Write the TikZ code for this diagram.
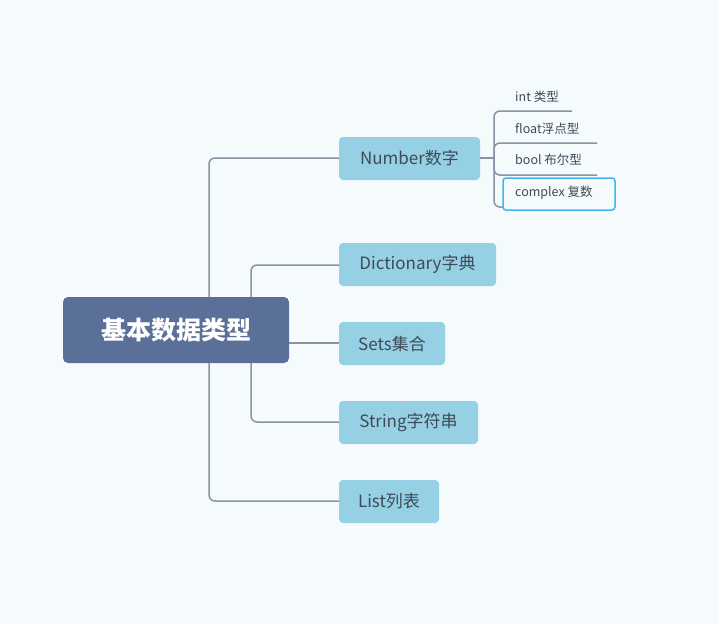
\documentclass[tikz,border=0pt]{standalone}
\usepackage{fontspec}
\setmainfont{Noto Sans CJK SC}
\begin{document}
\begin{tikzpicture}[x=1pt,y=-1pt,
  conn/.style={draw=lineC,line width=1.5pt,rounded corners=6pt},
  child/.style={fill=childC,rounded corners=4pt,text=txtC,font=\fontsize{17}{20}\selectfont,anchor=north west,inner sep=0pt},
  leaf/.style={text=txtC,font=\fontsize{12.5}{15}\selectfont,anchor=west,inner sep=0pt}]
\definecolor{bgC}{HTML}{F5FAFD}
\definecolor{rootC}{HTML}{5A7099}
\definecolor{childC}{HTML}{96D0E5}
\definecolor{txtC}{HTML}{3F4A57}
\definecolor{lineC}{HTML}{8A93A5}
\definecolor{selC}{HTML}{3DB8F0}
\fill[bgC] (0,0) rectangle (719,624);
\useasboundingbox (0,0) rectangle (719,624);
% connectors
\coordinate (r1) at (209,297);
\coordinate (r2) at (209,363);
\coordinate (r3) at (251,297);
\coordinate (r4) at (251,363);
\coordinate (r5) at (289,343);
% child boxes
\path[child] (339,137) rectangle (480,180);
\node[text=txtC,font=\fontsize{17}{20}\selectfont] (num) at (409.5,158.5) {Number数字};
\path[child] (339,243) rectangle (496,286);
\node[text=txtC,font=\fontsize{17}{20}\selectfont] (dic) at (417.5,264.5) {Dictionary字典};
\path[child] (339,322) rectangle (445,365);
\node[text=txtC,font=\fontsize{17}{20}\selectfont] (set) at (392,343.5) {Sets集合};
\path[child] (339,401) rectangle (478,444);
\node[text=txtC,font=\fontsize{17}{20}\selectfont] (str) at (408.5,422.5) {String字符串};
\path[child] (339,480) rectangle (439,523);
\node[text=txtC,font=\fontsize{17}{20}\selectfont] (lst) at (389,501.5) {List列表};
\coordinate (numL) at (339,158);
\coordinate (dicL) at (339,265);
\coordinate (setL) at (339,343);
\coordinate (strL) at (339,422);
\coordinate (lstL) at (339,501);
\draw[conn] (r1) |- (numL);
\draw[conn] (r2) |- (lstL);
\draw[conn] (r3) |- (dicL);
\draw[conn] (r4) |- (strL);
\draw[conn] (r5) -- (setL);
% root
\fill[rootC,rounded corners=5pt] (63,297) rectangle (289,363);
\node[text=white,font=\fontsize{25}{30}\selectfont\bfseries] (root) at (176,330) {基本数据类型};
% leaves
\coordinate (numR) at (480,158);
\coordinate (fork) at (494,158);
\draw[conn] (numR) -- (fork);
\coordinate (u1a) at (572,111);
\coordinate (u2a) at (597,143);
\coordinate (u3a) at (597,175);
\coordinate (u4a) at (503,207);
\draw[conn] (fork) |- (u1a);
\draw[conn] (fork) |- (u2a);
\draw[conn] (fork) |- (u3a);
\draw[conn] (fork) |- (u4a);
\node[leaf] (l1) at (515,97) {int 类型};
\node[leaf] (l2) at (515,129) {float浮点型};
\node[leaf] (l3) at (515,160) {bool 布尔型};
\draw[selC,line width=1.5pt,rounded corners=3pt] (503,178) rectangle (615,210);
\node[leaf] (l4) at (515,193) {complex 复数};
\end{tikzpicture}
\end{document}
